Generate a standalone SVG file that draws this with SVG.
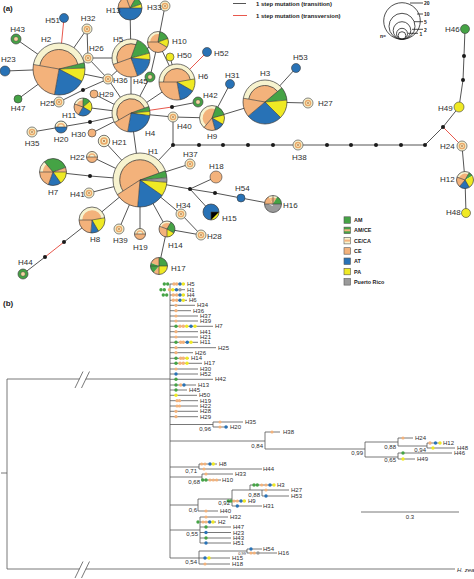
<svg xmlns="http://www.w3.org/2000/svg" xmlns:xlink="http://www.w3.org/1999/xlink" width="474" height="579" viewBox="0 0 474 579">
<style>
.e{stroke:#555;stroke-width:1;fill:none}
.r{stroke:#e8584d}
.dt{fill:#1a1a1a}
.t{font-family:"Liberation Sans",Arial,sans-serif;font-size:8px;fill:#2d2d2d}
.tt{font-family:"Liberation Sans",Arial,sans-serif;font-size:6px;fill:#2d2d2d}
.lg{font-family:"Liberation Sans",Arial,sans-serif;font-weight:bold;fill:#222}
.ol{fill:none;stroke:#3a3a3a;stroke-width:.7}
.dv{stroke:#3a3a3a;stroke-width:.6}
.p{fill:none}
.G{stroke:#45a345}.O{stroke:#f3b27b}.C{stroke:#f7f3cf}.B{stroke:#2872b6}.Y{stroke:#efe924}.K{stroke:#9a9a9a}
.fG{fill:#45a345}.fO{fill:#f3b27b}.fC{fill:#f7f3cf}.fB{fill:#2872b6}.fY{fill:#efe924}.fK{fill:#9a9a9a}
.nd{stroke:#3a3a3a;stroke-width:.6}
.tl{stroke:#555;stroke-width:.8;fill:none}
</style>
<defs>
<g id="dbl"><circle r="5" fill="#f7f3cf" stroke="#555" stroke-width=".7"/><circle r="2.6" fill="#f7f3cf" stroke="#eaa96a" stroke-width="1.5"/><circle r="1" fill="#b58a5a"/></g>
<g id="gdbl"><circle r="5" fill="#45a345" stroke="#444" stroke-width=".7"/><circle r="2.3" fill="#f4d6a0" stroke="#444" stroke-width=".5"/></g>
<g id="half"><circle r="5.5" fill="#f3b27b"/><path d="M-5.5 0A5.5 5.5 0 0 1 5.5 0Z" fill="#f7f3cf"/><path d="M-3 0A3 3 0 0 1 3 0" fill="none" stroke="#f3b27b" stroke-width="1.3"/><path class="dv" d="M-5.5 0H5.5"/><circle class="ol" r="5.5"/></g>
</defs>
<rect width="474" height="579" fill="#fff"/>
<text class="lg" x="3" y="11" font-size="8">(a)</text>
<text class="lg" x="3" y="306" font-size="8">(b)</text>

<g id="legend">
<path class="e" d="M233 3.5H246" stroke="#333"/>
<text class="lg" x="256" y="5.8" font-size="5.9">1 step mutation (transition)</text>
<path class="e r" d="M233 15.5H247"/>
<text class="lg" x="256" y="17.8" font-size="5.9">1 step mutation (transversion)</text>
<g fill="none" stroke="#222" stroke-width=".8">
<circle cx="402" cy="21" r="18.3"/><circle cx="402" cy="26.3" r="13"/><circle cx="402" cy="30.5" r="8.8"/><circle cx="402" cy="33.8" r="5.5"/><circle cx="402" cy="35.5" r="3.8"/>
<path d="M410 3H423M417 14H423M414 21.7H423M412 29.3H423M408 33.3H418"/>
</g>
<g class="lg" font-size="5">
<text x="424" y="5">20</text><text x="424" y="16">10</text><text x="424" y="24">5</text><text x="424" y="31.5">2</text><text x="419.5" y="35.5">1</text><text x="380" y="38">n=</text>
</g>
<g stroke="#555" stroke-width=".6">
<rect x="344" y="216.8" width="6.5" height="6.5" class="fG"/>
<rect x="344" y="227.1" width="6.5" height="6.5" class="fG"/>
<rect x="344" y="237.4" width="6.5" height="6.5" class="fC"/>
<rect x="344" y="247.7" width="6.5" height="6.5" class="fO"/>
<rect x="344" y="258" width="6.5" height="6.5" class="fB"/>
<rect x="344" y="268.3" width="6.5" height="6.5" class="fY"/>
<rect x="344" y="278.6" width="6.5" height="6.5" class="fK"/>
</g>
<rect x="344.3" y="229.3" width="5.9" height="2" class="fO"/>
<rect x="344.3" y="239.6" width="5.9" height="2" class="fO"/>
<g class="lg" font-size="5.4">
<text x="354" y="222">AM</text><text x="354" y="232.3">AM/CE</text><text x="354" y="242.6">CE/CA</text><text x="354" y="252.9">CE</text><text x="354" y="263.2">AT</text><text x="354" y="273.5">PA</text><text x="354" y="283.8">Puerto Rico</text>
</g>
</g>

<g id="connectors">
<path class="e" d="M59 69L16 39M59 69L5 71M59 69L18 99M59 69L87 29M59 69L88 58M59 69L108 79M59 102L83 90L108 79M87 29L88 58M88 58L131 58M88 58L108 79M108 79L131 58M108 79L131 113M130 8L131 58M131 58L131 113M131 58L158 42M158 42L165 6M158 42L150 77M158 42L177 82M150 77L131 113M177 82L131 113M177 82L170 57M172 107L198 102M131 113L173 117M173 117L212 118M173 117L173 145M212 118L230 84M212 118L265 102M265 102L296 68M265 102L308 103M131 113L94 94M131 113L83 107M61 127L90 122L131 113M32 132L61 127M92 133L131 113M131 113L140 180M104 141L140 180M92 157L140 180M53 172L90 176L140 180M89 193L140 180M92 220L140 180M119 229L140 180M140 234L140 180M167 229L140 180M167 229L159 266M167 229L201 235M181 214L201 235M140 180L181 214M140 180L190 189L216 177M190 189L211 212M190 189L215 193L241 198L273 204M140 180L190 164M140 180L173 145L298 145L425 145L443 127L459 107L463 80L464 56L465 29M462 146L465 180L466 213M92 220L64 242M45 257L23 274"/>
<path class="e r" d="M59 69L64 18M177 82L207 52M131 113L172 107M443 127L462 146M64 242L45 257"/>
<g class="dt">
<circle cx="83" cy="90" r="2"/><circle cx="90" cy="122" r="2"/><circle cx="172" cy="107" r="2"/><circle cx="173" cy="145" r="2"/><circle cx="199" cy="145" r="2"/><circle cx="223" cy="145" r="2"/><circle cx="248" cy="145" r="2"/><circle cx="273" cy="145" r="2"/><circle cx="327" cy="145" r="2"/><circle cx="351" cy="145" r="2"/><circle cx="376" cy="145" r="2"/><circle cx="401" cy="145" r="2"/><circle cx="425" cy="145" r="2"/><circle cx="443" cy="127" r="2"/><circle cx="463" cy="80" r="2"/><circle cx="464" cy="56" r="2"/><circle cx="90" cy="176" r="2"/><circle cx="64" cy="242" r="2"/><circle cx="45" cy="257" r="2"/><circle cx="190" cy="189" r="2"/><circle cx="215" cy="193" r="2"/>
</g>
</g>

<g id="nodes">
<g id="n-H2"><g transform="translate(59 69)">
<circle class="p C" r="13" stroke-width="26" pathLength="360" stroke-dasharray="156 360" transform="rotate(190)"/>
<circle class="p O" r="9.75" stroke-width="19.5" pathLength="360" stroke-dasharray="156 360" transform="rotate(190)"/>
<circle class="ol" r="19.5" pathLength="360" stroke-dasharray="156 360" transform="rotate(190)"/>
<circle class="p G" r="13" stroke-width="26" pathLength="360" stroke-dasharray="12 360" transform="rotate(346)"/>
<circle class="p Y" r="13" stroke-width="26" pathLength="360" stroke-dasharray="30 360" transform="rotate(358)"/>
<circle class="p B" r="13" stroke-width="26" pathLength="360" stroke-dasharray="72 360" transform="rotate(28)"/>
<circle class="p O" r="13" stroke-width="26" pathLength="360" stroke-dasharray="90 360" transform="rotate(100)"/>
<path class="dv" d="M0 0H26" transform="rotate(190)"/><path class="dv" d="M0 0H26" transform="rotate(346)"/><path class="dv" d="M0 0H26" transform="rotate(358)"/><path class="dv" d="M0 0H26" transform="rotate(28)"/><path class="dv" d="M0 0H26" transform="rotate(100)"/>
<circle class="ol" r="26"/></g>
<text class="t" x="46" y="42" text-anchor="middle">H2</text></g>

<g id="n-H5"><g transform="translate(131 58)">
<circle class="p C" r="9.5" stroke-width="19" pathLength="360" stroke-dasharray="130 360" transform="rotate(160)"/>
<circle class="p O" r="7.125" stroke-width="14.25" pathLength="360" stroke-dasharray="130 360" transform="rotate(160)"/>
<circle class="ol" r="14.25" pathLength="360" stroke-dasharray="130 360" transform="rotate(160)"/>
<circle class="p G" r="9.5" stroke-width="19" pathLength="360" stroke-dasharray="55 360" transform="rotate(290)"/>
<circle class="p Y" r="9.5" stroke-width="19" pathLength="360" stroke-dasharray="20 360" transform="rotate(345)"/>
<circle class="p B" r="9.5" stroke-width="19" pathLength="360" stroke-dasharray="65 360" transform="rotate(5)"/>
<circle class="p O" r="9.5" stroke-width="19" pathLength="360" stroke-dasharray="90 360" transform="rotate(70)"/>
<path class="dv" d="M0 0H19" transform="rotate(160)"/><path class="dv" d="M0 0H19" transform="rotate(290)"/><path class="dv" d="M0 0H19" transform="rotate(345)"/><path class="dv" d="M0 0H19" transform="rotate(5)"/><path class="dv" d="M0 0H19" transform="rotate(70)"/>
<circle class="ol" r="19"/></g>
<text class="t" x="113" y="42">H5</text></g>

<g id="n-H4"><g transform="translate(131 113)">
<circle class="p C" r="9.5" stroke-width="19" pathLength="360" stroke-dasharray="190 360" transform="rotate(150)"/>
<circle class="p O" r="7.125" stroke-width="14.25" pathLength="360" stroke-dasharray="190 360" transform="rotate(150)"/>
<circle class="ol" r="14.25" pathLength="360" stroke-dasharray="190 360" transform="rotate(150)"/>
<circle class="p G" r="9.5" stroke-width="19" pathLength="360" stroke-dasharray="15 360" transform="rotate(340)"/>
<circle class="p Y" r="9.5" stroke-width="19" pathLength="360" stroke-dasharray="13 360" transform="rotate(355)"/>
<circle class="p B" r="9.5" stroke-width="19" pathLength="360" stroke-dasharray="92 360" transform="rotate(8)"/>
<circle class="p O" r="9.5" stroke-width="19" pathLength="360" stroke-dasharray="50 360" transform="rotate(100)"/>
<path class="dv" d="M0 0H19" transform="rotate(150)"/><path class="dv" d="M0 0H19" transform="rotate(340)"/><path class="dv" d="M0 0H19" transform="rotate(355)"/><path class="dv" d="M0 0H19" transform="rotate(8)"/><path class="dv" d="M0 0H19" transform="rotate(100)"/>
<circle class="ol" r="19"/></g>
<text class="t" x="145" y="136">H4</text></g>

<g id="n-H1"><g transform="translate(140 180)">
<circle class="p C" r="13.5" stroke-width="27" pathLength="360" stroke-dasharray="193 360" transform="rotate(147)"/>
<circle class="p O" r="10.125" stroke-width="20.25" pathLength="360" stroke-dasharray="193 360" transform="rotate(147)"/>
<circle class="ol" r="20.25" pathLength="360" stroke-dasharray="193 360" transform="rotate(147)"/>
<circle class="p G" r="13.5" stroke-width="27" pathLength="360" stroke-dasharray="15 360" transform="rotate(340)"/>
<circle class="p K" r="13.5" stroke-width="27" pathLength="360" stroke-dasharray="10 360" transform="rotate(355)"/>
<circle class="p Y" r="13.5" stroke-width="27" pathLength="360" stroke-dasharray="30 360" transform="rotate(5)"/>
<circle class="p B" r="13.5" stroke-width="27" pathLength="360" stroke-dasharray="60 360" transform="rotate(35)"/>
<circle class="p O" r="13.5" stroke-width="27" pathLength="360" stroke-dasharray="52 360" transform="rotate(95)"/>
<path class="dv" d="M0 0H27" transform="rotate(147)"/><path class="dv" d="M0 0H27" transform="rotate(340)"/><path class="dv" d="M0 0H27" transform="rotate(355)"/><path class="dv" d="M0 0H27" transform="rotate(5)"/><path class="dv" d="M0 0H27" transform="rotate(35)"/><path class="dv" d="M0 0H27" transform="rotate(95)"/>
<circle class="ol" r="27"/></g>
<text class="t" x="148" y="154">H1</text></g>

<g id="n-H3"><g transform="translate(265 102)">
<circle class="p C" r="11" stroke-width="22" pathLength="360" stroke-dasharray="130 360" transform="rotate(190)"/>
<circle class="p O" r="8.25" stroke-width="16.5" pathLength="360" stroke-dasharray="130 360" transform="rotate(190)"/>
<circle class="ol" r="16.5" pathLength="360" stroke-dasharray="130 360" transform="rotate(190)"/>
<circle class="p G" r="11" stroke-width="22" pathLength="360" stroke-dasharray="35 360" transform="rotate(320)"/>
<circle class="p Y" r="11" stroke-width="22" pathLength="360" stroke-dasharray="50 360" transform="rotate(355)"/>
<circle class="p B" r="11" stroke-width="22" pathLength="360" stroke-dasharray="95 360" transform="rotate(45)"/>
<circle class="p O" r="11" stroke-width="22" pathLength="360" stroke-dasharray="50 360" transform="rotate(140)"/>
<path class="dv" d="M0 0H22" transform="rotate(190)"/><path class="dv" d="M0 0H22" transform="rotate(320)"/><path class="dv" d="M0 0H22" transform="rotate(355)"/><path class="dv" d="M0 0H22" transform="rotate(45)"/><path class="dv" d="M0 0H22" transform="rotate(140)"/>
<circle class="ol" r="22"/></g>
<text class="t" x="260" y="76">H3</text></g>

<g id="n-H6"><g transform="translate(177 82)">
<circle class="p C" r="9" stroke-width="18" pathLength="360" stroke-dasharray="170 360" transform="rotate(180)"/>
<circle class="p O" r="6.75" stroke-width="13.5" pathLength="360" stroke-dasharray="170 360" transform="rotate(180)"/>
<circle class="ol" r="13.5" pathLength="360" stroke-dasharray="170 360" transform="rotate(180)"/>
<circle class="p Y" r="9" stroke-width="18" pathLength="360" stroke-dasharray="40 360" transform="rotate(350)"/>
<circle class="p B" r="9" stroke-width="18" pathLength="360" stroke-dasharray="50 360" transform="rotate(30)"/>
<circle class="p O" r="9" stroke-width="18" pathLength="360" stroke-dasharray="100 360" transform="rotate(80)"/>
<path class="dv" d="M0 0H18" transform="rotate(180)"/><path class="dv" d="M0 0H18" transform="rotate(350)"/><path class="dv" d="M0 0H18" transform="rotate(30)"/><path class="dv" d="M0 0H18" transform="rotate(80)"/>
<circle class="ol" r="18"/></g>
<text class="t" x="198" y="79">H6</text></g>

<g id="n-H9"><g transform="translate(212 118)">
<circle class="p C" r="6.25" stroke-width="12.5" pathLength="360" stroke-dasharray="160 360" transform="rotate(130)"/>
<circle class="p O" r="4.7" stroke-width="9.4" pathLength="360" stroke-dasharray="160 360" transform="rotate(130)"/>
<circle class="p G" r="6.25" stroke-width="12.5" pathLength="360" stroke-dasharray="55 360" transform="rotate(290)"/>
<circle class="p Y" r="6.25" stroke-width="12.5" pathLength="360" stroke-dasharray="45 360" transform="rotate(345)"/>
<circle class="p B" r="6.25" stroke-width="12.5" pathLength="360" stroke-dasharray="45 360" transform="rotate(30)"/>
<circle class="p O" r="6.25" stroke-width="12.5" pathLength="360" stroke-dasharray="55 360" transform="rotate(75)"/>
<path class="dv" d="M0 0H12.5" transform="rotate(130)"/><path class="dv" d="M0 0H12.5" transform="rotate(290)"/><path class="dv" d="M0 0H12.5" transform="rotate(345)"/><path class="dv" d="M0 0H12.5" transform="rotate(30)"/><path class="dv" d="M0 0H12.5" transform="rotate(75)"/>
<circle class="ol" r="12.5"/></g>
<text class="t" x="207" y="139">H9</text></g>

<g id="n-H10"><g transform="translate(158 42)">
<circle class="p C" r="5.25" stroke-width="10.5" pathLength="360" stroke-dasharray="100 360" transform="rotate(180)"/>
<circle class="p O" r="3.95" stroke-width="7.9" pathLength="360" stroke-dasharray="100 360" transform="rotate(180)"/>
<circle class="p G" r="5.25" stroke-width="10.5" pathLength="360" stroke-dasharray="60 360" transform="rotate(280)"/>
<circle class="p Y" r="5.25" stroke-width="10.5" pathLength="360" stroke-dasharray="50 360" transform="rotate(340)"/>
<circle class="p O" r="5.25" stroke-width="10.5" pathLength="360" stroke-dasharray="150 360" transform="rotate(30)"/>
<path class="dv" d="M0 0H10.5" transform="rotate(180)"/><path class="dv" d="M0 0H10.5" transform="rotate(280)"/><path class="dv" d="M0 0H10.5" transform="rotate(340)"/><path class="dv" d="M0 0H10.5" transform="rotate(30)"/>
<circle class="ol" r="10.5"/></g>
<text class="t" x="172" y="44">H10</text></g>

<g id="n-H11"><g transform="translate(83 107)">
<circle class="p C" r="4.5" stroke-width="9" pathLength="360" stroke-dasharray="70 360" transform="rotate(200)"/>
<circle class="p O" r="3.375" stroke-width="6.75" pathLength="360" stroke-dasharray="70 360" transform="rotate(200)"/>
<circle class="p G" r="4.5" stroke-width="9" pathLength="360" stroke-dasharray="50 360" transform="rotate(270)"/>
<circle class="p Y" r="4.5" stroke-width="9" pathLength="360" stroke-dasharray="70 360" transform="rotate(320)"/>
<circle class="p B" r="4.5" stroke-width="9" pathLength="360" stroke-dasharray="90 360" transform="rotate(30)"/>
<circle class="p O" r="4.5" stroke-width="9" pathLength="360" stroke-dasharray="80 360" transform="rotate(120)"/>
<path class="dv" d="M0 0H9" transform="rotate(200)"/><path class="dv" d="M0 0H9" transform="rotate(270)"/><path class="dv" d="M0 0H9" transform="rotate(320)"/><path class="dv" d="M0 0H9" transform="rotate(30)"/><path class="dv" d="M0 0H9" transform="rotate(120)"/>
<circle class="ol" r="9"/></g>
<text class="t" x="62" y="118">H11</text></g>

<g id="n-H7"><g transform="translate(53 172)">
<circle class="p C" r="6.75" stroke-width="13.5" pathLength="360" stroke-dasharray="50 360" transform="rotate(180)"/>
<circle class="p O" r="5.05" stroke-width="10.1" pathLength="360" stroke-dasharray="50 360" transform="rotate(180)"/>
<circle class="p G" r="6.75" stroke-width="13.5" pathLength="360" stroke-dasharray="110 360" transform="rotate(230)"/>
<circle class="p O" r="6.75" stroke-width="13.5" pathLength="360" stroke-dasharray="20 360" transform="rotate(340)"/>
<circle class="p Y" r="6.75" stroke-width="13.5" pathLength="360" stroke-dasharray="55 360" transform="rotate(0)"/>
<circle class="p B" r="6.75" stroke-width="13.5" pathLength="360" stroke-dasharray="55 360" transform="rotate(55)"/>
<circle class="p O" r="6.75" stroke-width="13.5" pathLength="360" stroke-dasharray="70 360" transform="rotate(110)"/>
<path class="dv" d="M0 0H13.5" transform="rotate(180)"/><path class="dv" d="M0 0H13.5" transform="rotate(230)"/><path class="dv" d="M0 0H13.5" transform="rotate(340)"/><path class="dv" d="M0 0H13.5"/><path class="dv" d="M0 0H13.5" transform="rotate(55)"/><path class="dv" d="M0 0H13.5" transform="rotate(110)"/>
<circle class="ol" r="13.5"/></g>
<text class="t" x="48" y="195">H7</text></g>

<g id="n-H8"><g transform="translate(92 220)">
<circle class="p C" r="6.5" stroke-width="13" pathLength="360" stroke-dasharray="170 360" transform="rotate(180)"/>
<circle class="p O" r="4.875" stroke-width="9.75" pathLength="360" stroke-dasharray="170 360" transform="rotate(180)"/>
<circle class="p Y" r="6.5" stroke-width="13" pathLength="360" stroke-dasharray="70 360" transform="rotate(350)"/>
<circle class="p B" r="6.5" stroke-width="13" pathLength="360" stroke-dasharray="35 360" transform="rotate(60)"/>
<circle class="p O" r="6.5" stroke-width="13" pathLength="360" stroke-dasharray="85 360" transform="rotate(95)"/>
<path class="dv" d="M0 0H13" transform="rotate(180)"/><path class="dv" d="M0 0H13" transform="rotate(350)"/><path class="dv" d="M0 0H13" transform="rotate(60)"/><path class="dv" d="M0 0H13" transform="rotate(95)"/>
<circle class="ol" r="13"/></g>
<text class="t" x="90" y="242">H8</text></g>

<g id="n-H14"><g transform="translate(167 229)">
<circle class="p C" r="4" stroke-width="8" pathLength="360" stroke-dasharray="100 360" transform="rotate(200)"/>
<circle class="p O" r="3" stroke-width="6" pathLength="360" stroke-dasharray="100 360" transform="rotate(200)"/>
<circle class="p G" r="4" stroke-width="8" pathLength="360" stroke-dasharray="90 360" transform="rotate(300)"/>
<circle class="p Y" r="4" stroke-width="8" pathLength="360" stroke-dasharray="60 360" transform="rotate(30)"/>
<circle class="p O" r="4" stroke-width="8" pathLength="360" stroke-dasharray="110 360" transform="rotate(90)"/>
<path class="dv" d="M0 0H8" transform="rotate(200)"/><path class="dv" d="M0 0H8" transform="rotate(300)"/><path class="dv" d="M0 0H8" transform="rotate(30)"/><path class="dv" d="M0 0H8" transform="rotate(90)"/>
<circle class="ol" r="8"/></g>
<text class="t" x="168" y="248">H14</text></g>

<g id="n-H17"><g transform="translate(159 266)">
<circle class="p O" r="4.25" stroke-width="8.5" pathLength="360" stroke-dasharray="70 360" transform="rotate(200)"/>
<circle class="p G" r="4.25" stroke-width="8.5" pathLength="360" stroke-dasharray="90 360" transform="rotate(270)"/>
<circle class="p Y" r="4.25" stroke-width="8.5" pathLength="360" stroke-dasharray="90 360"/>
<circle class="p O" r="4.25" stroke-width="8.5" pathLength="360" stroke-dasharray="40 360" transform="rotate(90)"/>
<circle class="p G" r="4.25" stroke-width="8.5" pathLength="360" stroke-dasharray="70 360" transform="rotate(130)"/>
<path class="dv" d="M-8.5 0H8.5M0 -8.5V8.5"/>
<circle class="ol" r="8.5"/></g>
<text class="t" x="171" y="271">H17</text></g>

<g id="n-H16"><g transform="translate(273 204)">
<circle class="p K" r="4.25" stroke-width="8.5" pathLength="360" stroke-dasharray="180 360"/>
<circle class="p O" r="4.25" stroke-width="8.5" pathLength="360" stroke-dasharray="60 360" transform="rotate(180)"/>
<circle class="p C" r="4.25" stroke-width="8.5" pathLength="360" stroke-dasharray="60 360" transform="rotate(240)"/>
<circle class="p O" r="3.2" stroke-width="6.4" pathLength="360" stroke-dasharray="60 360" transform="rotate(240)"/>
<circle class="p G" r="4.25" stroke-width="8.5" pathLength="360" stroke-dasharray="60 360" transform="rotate(300)"/>
<path class="dv" d="M-8.5 0H8.5M0 0V-8.5"/>
<circle class="ol" r="8.5"/></g>
<text class="t" x="283" y="208">H16</text></g>

<g id="n-H12"><g transform="translate(465 180)">
<circle class="p C" r="4.25" stroke-width="8.5" pathLength="360" stroke-dasharray="100 360" transform="rotate(200)"/>
<circle class="p O" r="3.2" stroke-width="6.4" pathLength="360" stroke-dasharray="100 360" transform="rotate(200)"/>
<circle class="p G" r="4.25" stroke-width="8.5" pathLength="360" stroke-dasharray="30 360" transform="rotate(300)"/>
<circle class="p Y" r="4.25" stroke-width="8.5" pathLength="360" stroke-dasharray="90 360" transform="rotate(330)"/>
<circle class="p B" r="4.25" stroke-width="8.5" pathLength="360" stroke-dasharray="70 360" transform="rotate(60)"/>
<circle class="p O" r="4.25" stroke-width="8.5" pathLength="360" stroke-dasharray="70 360" transform="rotate(130)"/>
<path class="dv" d="M0 0H8.5" transform="rotate(200)"/><path class="dv" d="M0 0H8.5" transform="rotate(300)"/><path class="dv" d="M0 0H8.5" transform="rotate(60)"/><path class="dv" d="M0 0H8.5" transform="rotate(130)"/>
<circle class="ol" r="8.5"/></g>
<text class="t" x="440" y="182">H12</text></g>

<g id="n-H13"><g transform="translate(130 8)">
<circle class="p B" r="6" stroke-width="12" pathLength="360" stroke-dasharray="180 360"/>
<circle class="p O" r="6" stroke-width="12" pathLength="360" stroke-dasharray="70 360" transform="rotate(180)"/>
<circle class="p C" r="6" stroke-width="12" pathLength="360" stroke-dasharray="50 360" transform="rotate(250)"/>
<circle class="p O" r="4.5" stroke-width="9" pathLength="360" stroke-dasharray="50 360" transform="rotate(250)"/>
<circle class="p G" r="6" stroke-width="12" pathLength="360" stroke-dasharray="40 360" transform="rotate(300)"/>
<circle class="p Y" r="6" stroke-width="12" pathLength="360" stroke-dasharray="20 360" transform="rotate(340)"/>
<path class="dv" d="M-12 0H12"/><path class="dv" d="M0 0H12" transform="rotate(250)"/><path class="dv" d="M0 0H12" transform="rotate(300)"/><path class="dv" d="M0 0H12" transform="rotate(340)"/>
<circle class="ol" r="12"/></g>
<text class="t" x="106" y="13">H13</text></g>

<g id="n-H15"><g transform="translate(211 212)">
<circle class="p Y" r="4" stroke-width="8" pathLength="360" stroke-dasharray="90 360"/>
<circle class="p B" r="4" stroke-width="8" pathLength="360" stroke-dasharray="270 360" transform="rotate(90)"/>
<path class="dv" d="M8 0H0V8"/>
<circle class="ol" r="8"/></g>
<text class="t" x="222" y="221">H15</text></g>

<g id="n-H20"><g transform="translate(61 127)"><circle r="6" class="fB"/><path d="M-6 0A6 6 0 0 1 6 0Z" class="fC"/><path d="M-3.3 0A3.3 3.3 0 0 1 3.3 0" fill="none" stroke="#f3b27b" stroke-width="1.4"/><path class="dv" d="M-6 0H6"/><circle class="ol" r="6"/></g>
<text class="t" x="61" y="142" text-anchor="middle">H20</text></g>
<g id="n-H22"><use xlink:href="#half" href="#half" transform="translate(92 157)"/><text class="t" x="70" y="160">H22</text></g>
<g id="n-H19"><use xlink:href="#half" href="#half" transform="translate(140 234)"/><text class="t" x="133" y="250">H19</text></g>

<g id="n-H51"><circle cx="64" cy="18" r="4.5" class="fB nd"/><text class="t" x="60" y="23" text-anchor="end">H51</text></g>
<g id="n-H23"><circle cx="5" cy="71" r="5" class="fB nd"/><text class="t" x="1" y="62">H23</text></g>
<g id="n-H47"><circle cx="18" cy="99" r="4" class="fG nd"/><text class="t" x="18" y="111" text-anchor="middle">H47</text></g>
<g id="n-H29"><circle cx="94" cy="94" r="4" class="fO nd"/><text class="t" x="99" y="97">H29</text></g>
<g id="n-H30"><circle cx="92" cy="133" r="4" class="fO nd"/><text class="t" x="86" y="137" text-anchor="end">H30</text></g>
<g id="n-H50"><circle cx="170" cy="57" r="4" class="fY nd"/><text class="t" x="177" y="58">H50</text></g>
<g id="n-H52"><circle cx="207" cy="52" r="4.5" class="fB nd"/><text class="t" x="214" y="56">H52</text></g>
<g id="n-H31"><circle cx="230" cy="84" r="4.5" class="fB nd"/><text class="t" x="225" y="78">H31</text></g>
<g id="n-H53"><circle cx="296" cy="68" r="4.5" class="fB nd"/><text class="t" x="293" y="60">H53</text></g>
<g id="n-H18"><circle cx="216" cy="177" r="6" class="fO nd"/><text class="t" x="209" y="169">H18</text></g>
<g id="n-H54"><circle cx="241" cy="198" r="4" class="fB nd"/><text class="t" x="235" y="191">H54</text></g>
<g id="n-H46"><circle cx="465" cy="29" r="4.5" class="fG nd"/><text class="t" x="445" y="32">H46</text></g>
<g id="n-H49"><circle cx="459" cy="107" r="5" class="fY nd"/><text class="t" x="438" y="111">H49</text></g>
<g id="n-H48"><circle cx="466" cy="213" r="4.5" class="fY nd"/><text class="t" x="446" y="215">H48</text></g>

<g id="n-H43"><use xlink:href="#gdbl" href="#gdbl" transform="translate(16 39)"/><text class="t" x="17.5" y="32" text-anchor="middle">H43</text></g>
<g id="n-H45"><use xlink:href="#gdbl" href="#gdbl" transform="translate(150 77)"/><text class="t" x="133" y="84">H45</text></g>
<g id="n-H42"><use xlink:href="#gdbl" href="#gdbl" transform="translate(198 102)"/><text class="t" x="203" y="98">H42</text></g>
<g id="n-H44"><use xlink:href="#gdbl" href="#gdbl" transform="translate(23 274)"/><text class="t" x="18" y="265">H44</text></g>

<g id="n-H32"><use xlink:href="#dbl" href="#dbl" transform="translate(87 29)"/><text class="t" x="88" y="21" text-anchor="middle">H32</text></g>
<g id="n-H26"><use xlink:href="#dbl" href="#dbl" transform="translate(88 58)"/><text class="t" x="89" y="51">H26</text></g>
<g id="n-H36"><use xlink:href="#dbl" href="#dbl" transform="translate(108 79)"/><text class="t" x="113" y="83">H36</text></g>
<g id="n-H25"><use xlink:href="#dbl" href="#dbl" transform="translate(59 102)"/><text class="t" x="40" y="106">H25</text></g>
<g id="n-H35"><use xlink:href="#dbl" href="#dbl" transform="translate(32 132)"/><text class="t" x="32" y="146" text-anchor="middle">H35</text></g>
<g id="n-H21"><use xlink:href="#dbl" href="#dbl" transform="translate(104 141) scale(1.15)"/><text class="t" x="112" y="145">H21</text></g>
<g id="n-H33"><use xlink:href="#dbl" href="#dbl" transform="translate(165 6)"/><text class="t" x="147" y="10">H33</text></g>
<g id="n-H40"><use xlink:href="#dbl" href="#dbl" transform="translate(173 117)"/><text class="t" x="177" y="129">H40</text></g>
<g id="n-H27"><use xlink:href="#dbl" href="#dbl" transform="translate(308 103)"/><text class="t" x="318" y="106">H27</text></g>
<g id="n-H38"><use xlink:href="#dbl" href="#dbl" transform="translate(298 145)"/><text class="t" x="292" y="160">H38</text></g>
<g id="n-H24"><use xlink:href="#dbl" href="#dbl" transform="translate(462 146)"/><text class="t" x="440" y="149">H24</text></g>
<g id="n-H41"><use xlink:href="#dbl" href="#dbl" transform="translate(89 193)"/><text class="t" x="70" y="197">H41</text></g>
<g id="n-H39"><use xlink:href="#dbl" href="#dbl" transform="translate(119 229)"/><text class="t" x="113" y="243">H39</text></g>
<g id="n-H37"><use xlink:href="#dbl" href="#dbl" transform="translate(190 164)"/><text class="t" x="183" y="157">H37</text></g>
<g id="n-H34"><use xlink:href="#dbl" href="#dbl" transform="translate(181 214)"/><text class="t" x="176" y="208">H34</text></g>
<g id="n-H28"><use xlink:href="#dbl" href="#dbl" transform="translate(201 235)"/><text class="t" x="207" y="239">H28</text></g>
</g>

<g id="tree">
<path class="tl" d="M1 473H7M7 379V569M7 379H170M7 569H455M170 284V558
M170 284H185M170 289.7H185M170 295H185M170 300.3H187M170 305.3H195M170 310.7H191M170 316H198M170 321H198M170 326.3H213M170 331.7H198M170 337H198M170 342.3H198M170 347.7H216M170 352.7H193M170 358.3H189M170 363.3H202M170 369H198M170 374H198M170 379.3H213M170 385H196M170 390H187M170 395.3H197M170 400.7H198M170 406H198M170 411.3H198M170 416.7H198
M170 424.5H213M213 422V427M213 422H243M213 427H228
M170 441H265M265 432V449M265 432H280M265 449H365M365 442V457M365 442H398M398 438V446M398 438H413M398 446H427M427 443V448M427 443H440M427 448H455M365 457H398M398 453V459M398 453H452M398 459H415
M170 467H199M199 464V469M199 464H217M199 469H262
M170 477H202M202 474V480M202 474H233M202 480H221
M170 505H198M198 499V511M198 499H232M232 490V506M232 490H262M250 485V490M250 485H275M262 490V496M262 490H289M262 496H289M232 501H246M232 506H262M198 511H218
M170 530H200M200 517V543M200 517H228M200 522H216M200 527H231M200 532.5H231M200 538H231M200 543H231
M170 558H199M199 551V564M199 551H247M247 549V553M247 549H262M247 553H277M199 558H230M199 564H230
M361 512H459"/>
<polygon points="76,388 82.5,371.5 88.5,371.5 82,388" fill="#fff"/>
<polygon points="76,578 82.5,561.5 88.5,561.5 82,578" fill="#fff"/>
<path class="tl" d="M75 388L83 371.5M81.5 388L89.5 371.5M75 578L83 561.5M81.5 578L89.5 561.5"/>
<g stroke="none">
<circle cx="164.3" cy="284" r="1.7" class="fG"/><circle cx="167.7" cy="284" r="1.7" class="fG"/><circle cx="174" cy="284" r="1.7" class="fO"/><circle cx="176.7" cy="284" r="1.7" class="fO"/><circle cx="180" cy="284" r="1.7" class="fB"/><circle cx="183.3" cy="284" r="1.7" class="fY"/>
<circle cx="161" cy="289.7" r="1.7" class="fG"/><circle cx="164.3" cy="289.7" r="1.7" class="fG"/><circle cx="169.5" cy="289.7" r="1.7" class="fO"/><circle cx="172.8" cy="289.7" r="1.7" class="fY"/><circle cx="176.5" cy="289.7" r="1.7" class="fB"/><circle cx="180" cy="289.7" r="1.7" class="fK"/>
<circle cx="163.3" cy="295" r="1.7" class="fG"/><circle cx="166.7" cy="295" r="1.7" class="fG"/><circle cx="173.3" cy="295" r="1.7" class="fO"/><circle cx="176.7" cy="295" r="1.7" class="fO"/><circle cx="180" cy="295" r="1.7" class="fB"/><circle cx="183.3" cy="295" r="1.7" class="fY"/>
<circle cx="173.3" cy="300.3" r="1.7" class="fO"/><circle cx="176.7" cy="300.3" r="1.7" class="fO"/><circle cx="180" cy="300.3" r="1.7" class="fB"/><circle cx="183.3" cy="300.3" r="1.7" class="fY"/>
<circle cx="176" cy="305.3" r="1.6" class="fO"/><circle cx="176" cy="310.7" r="1.6" class="fO"/><circle cx="176" cy="316" r="1.6" class="fO"/><circle cx="176" cy="321" r="1.6" class="fO"/>
<circle cx="176" cy="326.3" r="1.7" class="fG"/><circle cx="180" cy="326.3" r="1.7" class="fO"/><circle cx="183.3" cy="326.3" r="1.7" class="fO"/><circle cx="186.7" cy="326.3" r="1.7" class="fY"/><circle cx="191" cy="326.3" r="1.7" class="fB"/><circle cx="195" cy="326.3" r="1.7" class="fY"/>
<circle cx="176" cy="331.7" r="1.6" class="fO"/><circle cx="176" cy="337" r="1.6" class="fO"/>
<circle cx="176" cy="342.3" r="1.7" class="fG"/><circle cx="180.7" cy="342.3" r="1.7" class="fO"/><circle cx="183.3" cy="342.3" r="1.7" class="fO"/><circle cx="187.3" cy="342.3" r="1.7" class="fB"/><circle cx="191" cy="342.3" r="1.7" class="fY"/>
<circle cx="176" cy="347.7" r="1.6" class="fO"/><circle cx="176" cy="352.7" r="1.6" class="fO"/>
<circle cx="176" cy="358.3" r="1.7" class="fG"/><circle cx="180.7" cy="358.3" r="1.7" class="fO"/><circle cx="183.3" cy="358.3" r="1.7" class="fO"/><circle cx="187" cy="358.3" r="1.7" class="fY"/>
<circle cx="176" cy="363.3" r="1.7" class="fG"/><circle cx="180" cy="363.3" r="1.7" class="fO"/><circle cx="183.3" cy="363.3" r="1.7" class="fO"/><circle cx="187" cy="363.3" r="1.7" class="fY"/>
<circle cx="176" cy="369" r="1.6" class="fO"/><circle cx="176" cy="374" r="1.7" class="fB"/><circle cx="176" cy="379.3" r="1.7" class="fG"/>
<circle cx="176" cy="385" r="1.7" class="fG"/><circle cx="180.7" cy="385" r="1.7" class="fO"/><circle cx="184" cy="385" r="1.7" class="fB"/>
<circle cx="176" cy="390" r="1.7" class="fG"/><circle cx="176" cy="395.3" r="1.7" class="fY"/>
<circle cx="177" cy="400.7" r="1.6" class="fO"/><circle cx="179.5" cy="400.7" r="1.6" class="fO"/><circle cx="177" cy="406" r="1.6" class="fO"/><circle cx="179.5" cy="406" r="1.6" class="fO"/>
<circle cx="176" cy="411.3" r="1.6" class="fO"/><circle cx="176" cy="416.7" r="1.6" class="fO"/>
<circle cx="220" cy="422" r="1.6" class="fO"/><circle cx="220" cy="427" r="1.6" class="fO"/><circle cx="226" cy="427" r="1.7" class="fB"/>
<circle cx="272" cy="432" r="1.6" class="fO"/><circle cx="403" cy="438" r="1.6" class="fO"/>
<circle cx="430" cy="443" r="1.7" class="fO"/><circle cx="435.5" cy="443" r="1.7" class="fB"/><circle cx="440" cy="443" r="1.7" class="fY"/>
<circle cx="433" cy="448" r="1.7" class="fY"/><circle cx="403" cy="453" r="1.7" class="fG"/><circle cx="403" cy="459" r="1.7" class="fY"/>
<circle cx="201.7" cy="464" r="1.6" class="fO"/><circle cx="205" cy="464" r="1.6" class="fO"/><circle cx="210" cy="464" r="1.7" class="fB"/><circle cx="213.3" cy="464" r="1.7" class="fY"/>
<circle cx="204" cy="469" r="1.6" class="fO"/><circle cx="206" cy="474" r="1.6" class="fO"/>
<circle cx="202.7" cy="480" r="1.7" class="fG"/><circle cx="206" cy="480" r="1.7" class="fG"/><circle cx="210" cy="480" r="1.6" class="fO"/><circle cx="213.3" cy="480" r="1.6" class="fO"/><circle cx="216.7" cy="480" r="1.6" class="fO"/>
<circle cx="254" cy="485" r="1.7" class="fG"/><circle cx="257.3" cy="485" r="1.7" class="fG"/><circle cx="261.7" cy="485" r="1.6" class="fO"/><circle cx="266" cy="485" r="1.6" class="fO"/><circle cx="270" cy="485" r="1.7" class="fB"/><circle cx="274" cy="485" r="1.7" class="fY"/>
<circle cx="266" cy="490" r="1.6" class="fO"/><circle cx="266" cy="496" r="1.7" class="fB"/>
<circle cx="228.3" cy="501" r="1.7" class="fG"/><circle cx="231" cy="501" r="1.7" class="fG"/><circle cx="234" cy="501" r="1.6" class="fO"/><circle cx="237.3" cy="501" r="1.6" class="fO"/><circle cx="241" cy="501" r="1.7" class="fB"/><circle cx="244.3" cy="501" r="1.7" class="fY"/>
<circle cx="237.3" cy="506" r="1.7" class="fB"/><circle cx="206" cy="511" r="1.6" class="fO"/><circle cx="206" cy="517" r="1.6" class="fO"/>
<circle cx="198" cy="522" r="1.7" class="fG"/><circle cx="203" cy="522" r="1.6" class="fO"/><circle cx="206" cy="522" r="1.6" class="fO"/><circle cx="209.7" cy="522" r="1.7" class="fB"/><circle cx="213" cy="522" r="1.7" class="fY"/>
<circle cx="206" cy="527" r="1.7" class="fG"/><circle cx="206" cy="532.5" r="1.7" class="fB"/><circle cx="206" cy="538" r="1.7" class="fG"/><circle cx="206" cy="543" r="1.7" class="fB"/>
<circle cx="251" cy="549" r="1.7" class="fB"/><circle cx="251" cy="553" r="1.6" class="fO"/><circle cx="254.3" cy="553" r="1.6" class="fO"/><circle cx="258" cy="553" r="1.7" class="fK"/>
<circle cx="205" cy="558" r="1.7" class="fB"/><circle cx="209" cy="558" r="1.7" class="fY"/><circle cx="205" cy="564" r="1.6" class="fO"/>
</g>
<g class="tt">
<text x="187" y="286">H5</text><text x="187" y="291.7">H1</text><text x="187" y="297">H4</text><text x="189" y="302.3">H6</text><text x="197" y="307.3">H34</text><text x="193" y="312.7">H36</text><text x="200" y="318">H37</text><text x="200" y="323">H39</text><text x="215" y="328.3">H7</text><text x="200" y="333.7">H41</text><text x="200" y="339">H21</text><text x="200" y="344.3">H11</text><text x="218" y="349.7">H25</text><text x="195" y="354.7">H26</text><text x="191" y="360.3">H14</text><text x="204" y="365.3">H17</text><text x="200" y="371">H30</text><text x="200" y="376">H52</text><text x="215" y="381.3">H42</text><text x="198" y="387">H13</text><text x="189" y="392">H45</text><text x="199" y="397.3">H50</text><text x="200" y="402.7">H19</text><text x="200" y="408">H22</text><text x="200" y="413.3">H28</text><text x="200" y="418.7">H29</text>
<text x="245" y="424">H35</text><text x="230" y="429">H20</text><text x="211" y="431" text-anchor="end">0,96</text>
<text x="283" y="434">H38</text><text x="263" y="448" text-anchor="end">0,84</text><text x="363" y="455" text-anchor="end">0,99</text>
<text x="415" y="440">H24</text><text x="443" y="445">H12</text><text x="457" y="450">H48</text><text x="454" y="455">H46</text><text x="417" y="461">H49</text>
<text x="396" y="448.5" text-anchor="end">0,88</text><text x="426" y="452" text-anchor="end">0,94</text><text x="396" y="462" text-anchor="end">0,65</text>
<text x="219" y="466">H8</text><text x="263" y="471">H44</text><text x="197" y="473" text-anchor="end">0,71</text>
<text x="235" y="476">H33</text><text x="222" y="482">H10</text><text x="200" y="483.5" text-anchor="end">0,68</text>
<text x="277" y="487">H3</text><text x="291" y="492">H27</text><text x="291" y="498">H53</text><text x="260" y="496.5" text-anchor="end">0,88</text>
<text x="248" y="503">H9</text><text x="263" y="508">H31</text><text x="230" y="505" text-anchor="end">0,92</text>
<text x="220" y="513">H40</text><text x="197" y="511.5" text-anchor="end">0,6</text>
<text x="230" y="519">H32</text><text x="218" y="524">H2</text><text x="233" y="529">H47</text><text x="233" y="534.5">H23</text><text x="233" y="540">H43</text><text x="233" y="545">H51</text><text x="198" y="536" text-anchor="end">0,55</text>
<text x="263" y="551">H54</text><text x="278" y="555">H16</text><text x="232" y="560">H15</text><text x="232" y="566">H18</text><text x="197" y="564" text-anchor="end">0,54</text>
<text x="246" y="554.6" text-anchor="end" font-size="4">0,99</text>
<text x="410" y="519" text-anchor="middle">0.3</text>
<text x="457" y="571.5" font-style="italic">H. zea</text>
</g>
</g>
</svg>
